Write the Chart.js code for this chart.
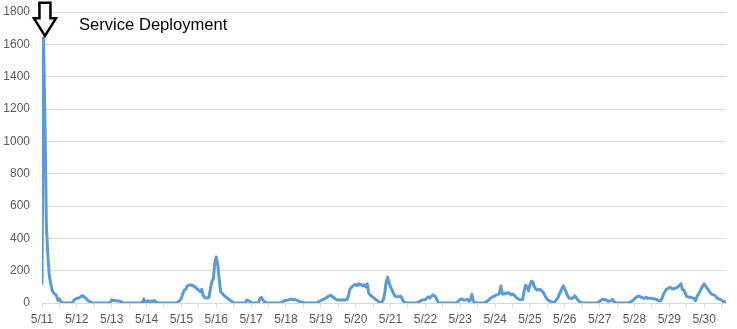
<!DOCTYPE html>
<html><head><meta charset="utf-8">
<script src="https://cdn.jsdelivr.net/npm/chart.js@4"></script>
<style>html,body{margin:0;padding:0;background:#fff}#wrap{width:737px;height:329px;position:relative}</style>
</head><body><div id="wrap"><canvas id="c" width="737" height="329"></canvas></div>
<script>
// Date labels (one per day, hourly data)
const dayLabels = ['5/11','5/12','5/13','5/14','5/15','5/16','5/17','5/18','5/19','5/20',
                   '5/21','5/22','5/23','5/24','5/25','5/26','5/27','5/28','5/29','5/30'];
// Hourly counts per day
const may11 = [120,1640,1150,480,300,170,120,80,60,55,45,15,25,10,0,0,0,0,0,0,0,5,15,25];
const may12 = [30,30,35,42,45,38,30,22,12,8,3,0,0,0,0,0,0,0,0,0,0,0,0,5];
const may13 = [20,15,15,15,12,12,10,5,0,0,0,0,0,0,0,0,0,0,0,0,0,0,25,5];
const may14 = [8,15,5,12,8,15,10,5,0,0,0,0,0,0,0,0,0,0,0,0,0,0,10,15];
const may15 = [30,60,80,85,105,110,112,110,108,100,95,85,78,70,85,45,33,30,32,35,90,135,150,250];
const may16 = [285,240,150,70,60,50,42,35,28,20,15,8,0,0,0,0,0,0,0,0,2,18,15,10];
const may17 = [5,0,0,0,0,0,25,35,20,10,5,0,0,0,0,0,0,0,0,0,0,3,10,15];
const may18 = [15,18,20,22,25,20,22,18,15,10,8,5,3,0,0,0,0,0,0,0,0,0,5,12];
const may19 = [15,20,23,28,33,40,45,48,38,33,25,20,18,19,18,20,18,19,20,45,85,95,105,110];
const may20 = [115,108,118,112,115,105,112,100,118,60,50,42,35,28,20,15,8,3,5,20,60,130,160,125];
const may21 = [100,80,60,45,38,38,40,43,25,8,3,0,0,0,0,0,0,0,0,3,10,15,19,20];
const may22 = [22,30,38,30,40,50,45,37,20,0,0,0,0,0,0,0,0,0,0,0,0,0,3,15];
const may23 = [22,25,20,18,20,23,10,20,54,10,3,0,0,0,0,0,0,3,8,15,22,30,38,40];
const may24 = [45,50,52,60,105,55,55,62,58,65,60,50,55,50,40,30,25,22,20,22,75,110,100,75];
const may25 = [110,135,130,100,88,80,82,84,75,68,52,35,23,15,10,8,0,5,18,29,50,68,90,107];
const may26 = [85,65,45,29,30,28,35,45,30,18,10,5,0,0,0,0,0,0,0,0,0,0,0,5];
const may27 = [10,18,23,22,20,15,10,12,15,22,8,2,0,0,0,0,0,0,0,0,2,5,10,18];
const may28 = [25,35,40,43,38,35,30,29,35,30,30,30,28,27,25,22,18,12,14,30,55,70,85,90];
const may29 = [97,95,88,86,92,95,100,110,118,82,80,60,40,38,35,35,30,28,15,40,55,70,88,105];
const may30 = [118,105,92,80,65,55,52,50,40,30,25,22,18,10,8,5];

const counts = [].concat(may11,may12,may13,may14,may15,may16,may17,may18,may19,may20,
                         may21,may22,may23,may24,may25,may26,may27,may28,may29,may30);
const annotationText = 'Service Deployment';
const yMin = 0, yMax = 1800, yStep = 200;
const hoursPerDay = 24, tickEveryHours = 12;

const points = counts.map((v, i) => ({x: i, y: v}));

const annotationPlugin = {
  id: 'deployArrow',
  afterDatasetsDraw(chart) {
    const {ctx, scales: {x, y}} = chart;
    let peakIdx = 0;
    counts.forEach((v, i) => { if (v > counts[peakIdx]) peakIdx = i; });
    const tipX = x.getPixelForValue(peakIdx) + 1.5;
    const tipY = y.getPixelForValue(counts[peakIdx]) - 2;
    const headBase = tipY - 17.5, top = tipY - 33;
    ctx.save();
    ctx.beginPath();
    ctx.moveTo(tipX, tipY);
    ctx.lineTo(tipX - 11, headBase);
    ctx.lineTo(tipX - 5.5, headBase);
    ctx.lineTo(tipX - 5.5, top);
    ctx.lineTo(tipX + 5.5, top);
    ctx.lineTo(tipX + 5.5, headBase);
    ctx.lineTo(tipX + 11, headBase);
    ctx.closePath();
    ctx.fillStyle = '#ffffff';
    ctx.fill();
    ctx.lineWidth = 2.5;
    ctx.strokeStyle = '#000000';
    ctx.lineJoin = 'miter';
    ctx.stroke();
    ctx.fillStyle = '#000000';
    ctx.font = '16.6px "Liberation Sans", Arial, sans-serif';
    ctx.textAlign = 'left';
    ctx.textBaseline = 'alphabetic';
    ctx.fillText(annotationText, tipX + 34, tipY - 5.5);
    ctx.restore();
  }
};

new Chart(document.getElementById('c'), {
  type: 'line',
  data: {
    datasets: [{
      data: points,
      borderColor: '#5B9BD5',
      borderWidth: 3,
      pointRadius: 0,
      tension: 0,
      fill: false,
      borderJoinStyle: 'round',
      borderCapStyle: 'round'
    }]
  },
  options: {
    responsive: false,
    animation: false,
    layout: {padding: {top: 12, right: 11, left: 0, bottom: 0}},
    plugins: {legend: {display: false}, tooltip: {enabled: false}, title: {display: false}},
    scales: {
      x: {
        type: 'linear',
        min: 0,
        max: counts.length - 1,
        afterBuildTicks(scale) {
          const t = [];
          for (let v = 0; v <= counts.length - 1; v += tickEveryHours) t.push({value: v});
          scale.ticks = t;
        },
        afterFit(scale) { scale.height = 26; },
        grid: {drawOnChartArea: false, drawTicks: true, tickLength: 5, color: '#d9d9d9', lineWidth: 1},
        border: {display: true, color: '#d9d9d9', width: 1},
        ticks: {
          autoSkip: false,
          maxRotation: 0,
          padding: 4,
          color: '#595959',
          font: {family: '"Liberation Sans", Arial, sans-serif', size: 12},
          callback: (v) => (v % hoursPerDay === 0 ? dayLabels[v / hoursPerDay] : '')
        }
      },
      y: {
        min: yMin, max: yMax,
        afterFit(scale) { scale.width = 42; scale.paddingTop = 0; scale.paddingBottom = 0; },
        grid: {color: '#d9d9d9', lineWidth: 1, drawTicks: false},
        border: {display: false},
        ticks: {
          stepSize: yStep,
          padding: 12,
          color: '#595959',
          font: {family: '"Liberation Sans", Arial, sans-serif', size: 12},
          callback: (v) => String(v)
        }
      }
    }
  },
  plugins: [annotationPlugin]
});
</script>
</body></html>
